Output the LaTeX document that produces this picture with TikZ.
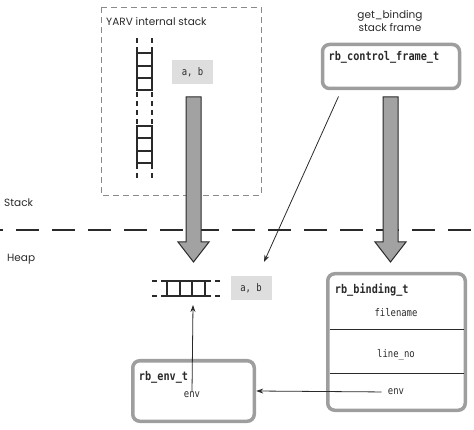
\documentclass[tikz,border=0pt]{standalone}
\usepackage{fontspec}
\setmainfont{Poppins}
\newfontfamily\codefont[FakeStretch=0.85]{DejaVu Sans Mono}
\usetikzlibrary{positioning,arrows.meta,calc}
\definecolor{FrameGray}{HTML}{9E9E9E}
\definecolor{ArrowGray}{HTML}{A2A2A2}
\definecolor{CellGray}{HTML}{DEDEDE}
\definecolor{LineDark}{HTML}{2A2A2A}
\definecolor{DashGray}{HTML}{8A8A8A}

\begin{document}
\begin{tikzpicture}[x=1pt,y=-1pt,
          every node/.style={font=\fontsize{10.5}{13}\selectfont, text=LineDark},
          ar/.style={-{Stealth[length=7pt,width=5pt]},LineDark,line width=0.8pt},
          frame/.style={draw=FrameGray, line width=3.5pt, rounded corners=7pt, outer sep=0pt},
          title/.style={inner sep=0pt, font=\codefont\bfseries\fontsize{12}{14}\selectfont},
          field/.style={inner sep=0pt, font=\codefont\fontsize{10.5}{12}\selectfont},
          cell/.style={fill=CellGray, minimum width=41pt, minimum height=24pt,
            inner sep=0pt, font=\codefont\fontsize{10.5}{12}\selectfont},
          rung/.style={LineDark, line width=1.1pt},
          rail/.style={LineDark, line width=1.1pt, dash pattern=on 5pt off 4pt},
          bigarrow/.style={fill=ArrowGray, draw=LineDark, line width=1pt, line join=miter}]
        \useasboundingbox (0,0) rectangle (474,430);

        \draw[DashGray, line width=0.9pt, dash pattern=on 6pt off 4pt] (101,7) rectangle (261,195);
        \node[anchor=west, inner sep=0pt] (yarv) at (106,22) {YARV internal stack};
        \foreach \r in {137,152} {
          \draw[rail] (\r,38) -- (\r,178);
          \draw[rung] (\r,50) -- (\r,91);
          \draw[rung] (\r,125) -- (\r,167);
        }
        \foreach \y in {53,66,78,90,126,138,151,163}
          \draw[rung] (137,\y) -- (152,\y);
        \node[cell] (stackab) at (192.5,72) {a, b};

        \node[align=center, inner sep=0pt] (gb) at (390,21) {get\_binding\\stack frame};
        \node[frame, minimum width=137pt, minimum height=44pt] (cfbox) at (391,66.5) {};
        \node[title, below right=7pt and 6pt of cfbox.north west] (cftitle) {rb\_control\_frame\_t};

        \node[anchor=west, inner sep=0pt] (stacklbl) at (4,203) {Stack};
        \node[anchor=west, inner sep=0pt] (heaplbl) at (7,259) {Heap};
        \draw[LineDark, line width=1.2pt, dash pattern=on 23pt off 13pt, dash phase=20pt]
          (0,230) -- (474,230);

        \foreach \cx in {193.5,390.5}
          \filldraw[bigarrow] (\cx-7.5,97) -- (\cx+7.5,97) -- (\cx+7.5,242) -- (\cx+15.5,242)
            -- (\cx,262) -- (\cx-15.5,242) -- (\cx-7.5,242) -- cycle;

        \draw[rail] (152,281) -- (220,281);
        \draw[rail] (152,296) -- (220,296);
        \draw[rung] (163,281) -- (208,281);
        \draw[rung] (163,296) -- (208,296);
        \foreach \x in {167,180,192,205}
          \draw[rung] (\x,281) -- (\x,296);
        \node[cell] (heapab) at (251,288) {a, b};
        \coordinate (abtop) at (264,262);
        \coordinate (ladbot) at (193,305);

        \node[frame, minimum width=137.5pt, minimum height=136.5pt] (bindbox) at (396.5,342) {};
        \node[title, below right=10pt and 7pt of bindbox.north west] (bindtitle) {rb\_binding\_t};
        \node[field] (fname) at (396,313) {filename};
        \node[field] (lineno) at (396,355) {line\_no};
        \node[field] (benv) at (396,392) {env};
        \draw[LineDark, line width=1pt, shorten <=1.75pt, shorten >=1.75pt]
          (bindbox.west |- 0,330) -- (bindbox.east |- 0,330);
        \draw[LineDark, line width=1pt, shorten <=1.75pt, shorten >=1.75pt]
          (bindbox.west |- 0,373) -- (bindbox.east |- 0,373);

        \node[frame, minimum width=121.5pt, minimum height=60.5pt] (envbox) at (193.5,391) {};
        \node[title, below right=10pt and 6pt of envbox.north west] (envtitle) {rb\_env\_t};
        \node[field] (eenv) at (192,395) {env};

        \draw[ar] ($(cfbox.south west)+(16,8)$) -- (abtop);
        \draw[ar] (eenv.north) -- (ladbot);
        \draw[ar, shorten <=6pt] (benv.west) -- ($(envbox.east)+(2,0)$);
      \end{tikzpicture}
\end{document}
